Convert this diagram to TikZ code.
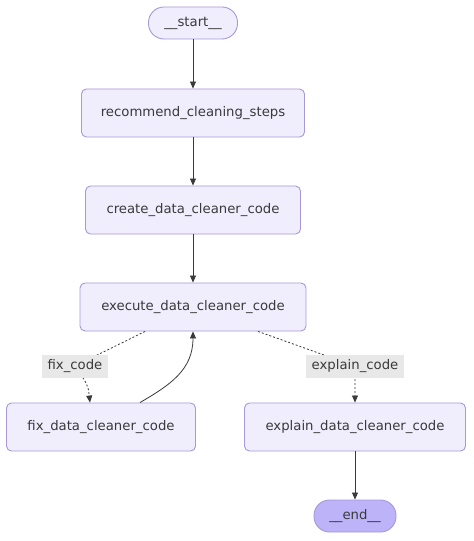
\documentclass[tikz,border=0pt]{standalone}
\usepackage{fontspec}
\setmainfont{DejaVu Sans}
\usetikzlibrary{arrows.meta}
\definecolor{nodefill}{HTML}{F0EEFD}
\definecolor{nodeline}{HTML}{A898D6}
\definecolor{endfill}{HTML}{BDB3F9}
\definecolor{lblfill}{HTML}{E8E8E8}
\definecolor{inkgray}{HTML}{3A3A3A}
\begin{document}
\begin{tikzpicture}
[x=1bp,y=-1bp,
 stepbox/.style={draw=nodeline,fill=nodefill,rounded corners=5bp,line width=0.9bp,
   minimum height=48bp,text=inkgray,font=\fontsize{13.3}{15}\selectfont},
 pill/.style={stepbox,rounded corners=15.5bp,minimum height=32bp},
 edgelbl/.style={fill=lblfill,text=inkgray,minimum height=23bp,inner xsep=5.5bp,
   font=\fontsize{13.3}{15}\selectfont},
 flow/.style={draw=inkgray,line width=0.8bp,-{Triangle[length=7bp,width=6bp]}},
 maybe/.style={flow,dash pattern=on 2bp off 2bp}]
\fill[white] (0,0) rectangle (474,541);
\useasboundingbox (0,0) rectangle (474,541);
%% the steps
\foreach \nm/\x/\y/\w/\txt in {rec/193/113/223/recommend\_cleaning\_steps,
    create/193/210/215/create\_data\_cleaner\_code,
    exec/193/307/226/execute\_data\_cleaner\_code,
    fix/101/427/189/fix\_data\_cleaner\_code,
    explain/355/427/221/explain\_data\_cleaner\_code} {
  \node[stepbox,minimum width=\w bp] (\nm) at (\x,\y) {\txt};
}
\node[pill,minimum width=89bp] (start) at (193,23) {\_\_start\_\_};
\node[pill,fill=endfill,minimum width=82bp] (finish) at (355,516) {\_\_end\_\_};
%% straight edges
\foreach \a/\b in {start/rec, rec/create, create/exec, explain/finish} {
  \draw[flow] (\a) -- (\b);
}
%% back from fix
\draw[flow] ([xshift=39bp]fix.north) .. controls (170,385) and (193,370) .. (exec.south);
%% the two choices
\coordinate (fixmid) at (75,366);
\coordinate (explmid) at (355,366);
\draw[maybe] ([xshift=-48bp]exec.south) -- (fixmid)
  .. controls (88,385) .. ([xshift=-11bp]fix.north);
\draw[maybe] ([xshift=65bp]exec.south) -- (explmid)
  .. controls (355,385) .. (explain.north);
\node[edgelbl] (fixlbl) at (fixmid) {fix\_code};
\node[edgelbl] (expllbl) at (explmid) {explain\_code};
\end{tikzpicture}
\end{document}
